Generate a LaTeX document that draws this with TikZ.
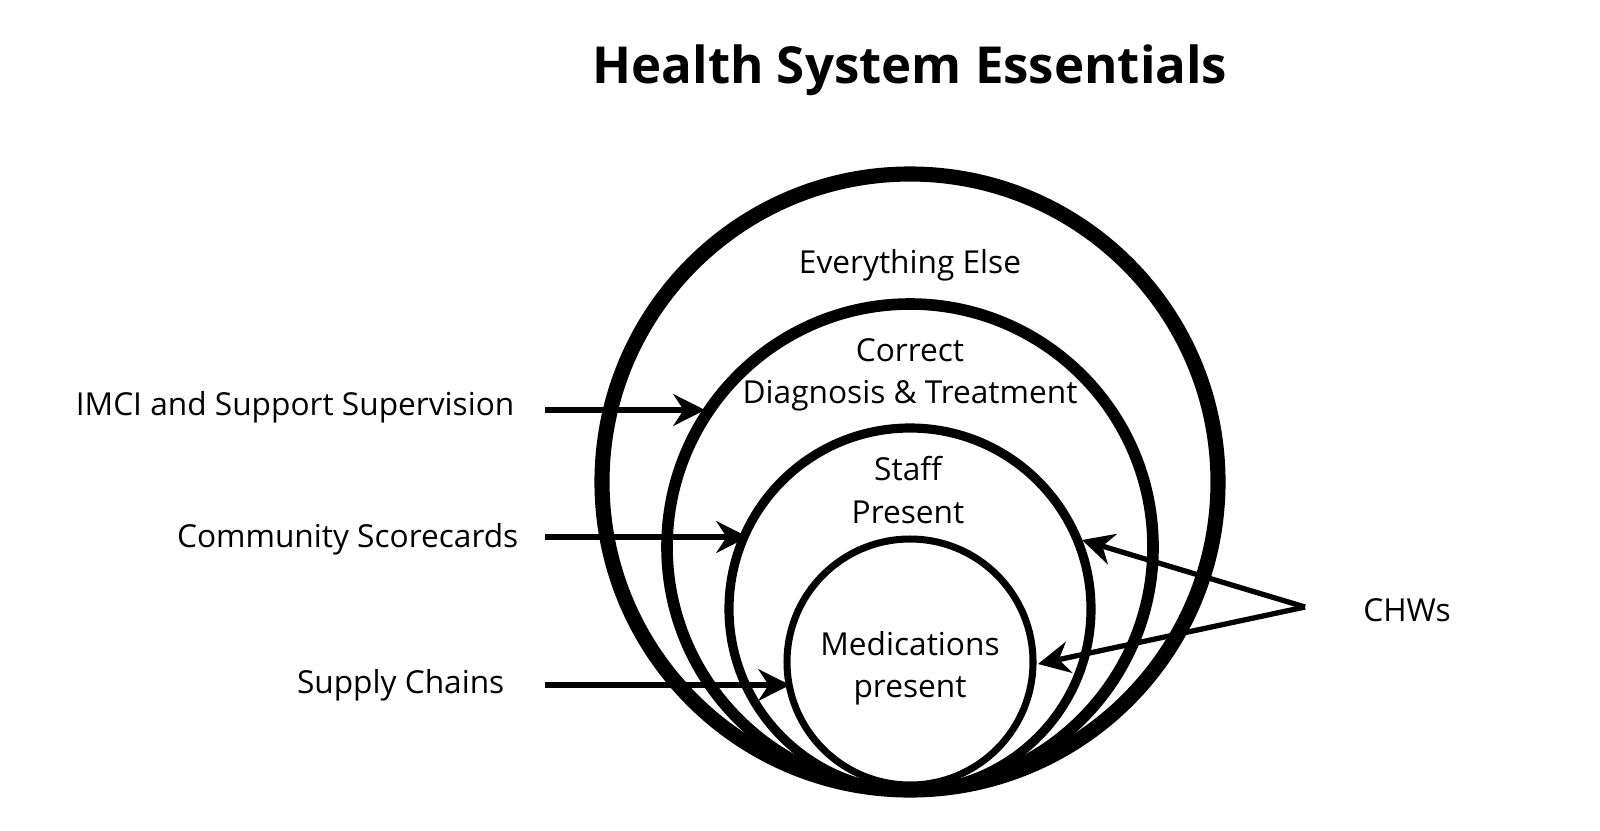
\documentclass[tikz,border=0pt]{standalone}
\usepackage{fontspec}
\setmainfont{Open Sans}
\usetikzlibrary{arrows.meta}
\begin{document}
\begin{tikzpicture}[x=0.01cm,y=-0.01cm,
  lbl/.style={font=\fontsize{9}{12}\selectfont,align=center,inner sep=0},
  arr/.style={line width=1.5pt,-{Stealth[length=9pt,width=9pt]}}]
\useasboundingbox (0,0) rectangle (1600,830);
\node[font=\bfseries\fontsize{14.5}{16}\selectfont] (title) at (910,70) {Health System Essentials};
\draw[line width=4.3pt] (910,482) circle (308);
\draw[line width=3.3pt] (910,547) circle (243);
\draw[line width=2.6pt] (910,609) circle (181);
\draw[line width=2pt] (910,662) circle (123);
\node[lbl] (ee) at (910,265) {Everything Else};
\node[lbl] (cd) at (910,375) {Correct\\Diagnosis \& Treatment};
\node[lbl] (sp) at (908,490) {Staff\\Present};
\node[lbl] (mp) at (910,668) {Medications\\present};
\node[lbl,anchor=east] (imci) at (515,407) {IMCI and Support Supervision};
\node[lbl,anchor=east] (cs) at (519,539) {Community Scorecards};
\node[lbl,anchor=east] (sc) at (505,685) {Supply Chains};
\node[lbl] (chw) at (1407,610) {CHWs};
\coordinate (a1) at (545,410); \coordinate (b1) at (705,410);
\coordinate (a2) at (545,537); \coordinate (b2) at (748,537);
\coordinate (a3) at (545,685); \coordinate (b3) at (790,685);
\coordinate (j) at (1305,607);
\coordinate (c1) at (1082,540); \coordinate (c2) at (1038,664);
\draw[arr] (a1) -- (b1);
\draw[arr] (a2) -- (b2);
\draw[arr] (a3) -- (b3);
\draw[arr] (j) -- (c1);
\draw[arr] (j) -- (c2);
\end{tikzpicture}
\end{document}
